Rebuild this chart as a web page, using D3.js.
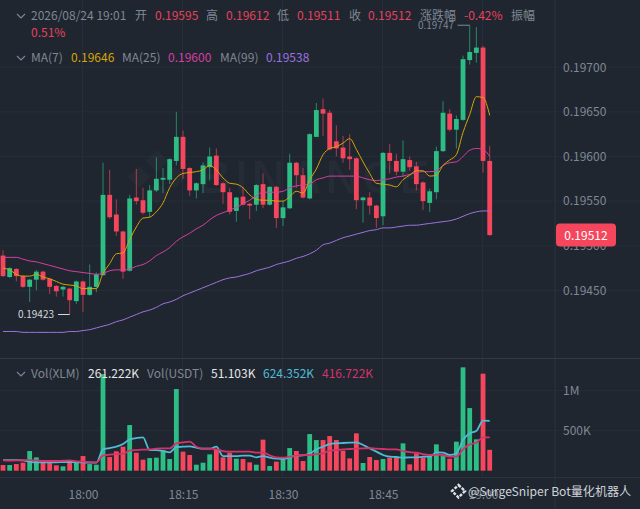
<!DOCTYPE html>
<html>
<head>
<meta charset="utf-8">
<script src="https://cdn.jsdelivr.net/npm/d3@7"></script>
<style>
  html, body { margin: 0; padding: 0; background: #1f2630; overflow: hidden; }
  svg { display: block; font-family: "Noto Sans CJK SC", "Noto Sans", sans-serif; font-size: 12px; }
  .domain { display: none; }
  .tick line { display: none; }
  .tick text { fill: #7f8894; font-size: 12px; font-family: "Noto Sans CJK SC", "Noto Sans", sans-serif; }
</style>
</head>
<body>
<svg id="chart" width="640" height="509"></svg>
<script>
// prices are in units of 0.00001, volumes in thousands
const open = [19489,19465,19474,19466,19454,19462,19471,19463,19455,19451,19452,19438,19460,19445,19454,19467,19557,19535,19516,19472,19554,19551,19538,19562,19574,19574,19595,19622,19587,19562,19569,19588,19601,19570,19560,19539,19555,19547,19546,19569,19546,19566,19531,19542,19593,19579,19553,19622,19653,19649,19617,19610,19600,19598,19551,19554,19545,19533,19604,19595,19583,19596,19589,19571,19548,19560,19606,19648,19630,19641,19708,19716,19722,19595];
const high = [19495,19476,19475,19467,19463,19473,19472,19464,19456,19455,19453,19461,19461,19479,19470,19593,19585,19552,19517,19557,19586,19565,19568,19599,19587,19598,19650,19629,19588,19571,19593,19610,19609,19571,19565,19555,19565,19548,19569,19581,19567,19567,19550,19603,19594,19587,19626,19660,19665,19652,19635,19623,19625,19599,19555,19560,19546,19605,19614,19603,19618,19600,19594,19572,19564,19611,19662,19653,19646,19713,19747,19745,19724,19612];
const low = [19465,19464,19460,19453,19437,19450,19461,19446,19443,19443,19423,19435,19426,19444,19448,19467,19530,19511,19463,19471,19546,19535,19532,19560,19559,19569,19590,19575,19556,19553,19559,19573,19567,19547,19535,19527,19545,19530,19539,19542,19545,19520,19522,19541,19565,19553,19552,19622,19623,19607,19600,19593,19585,19541,19526,19535,19520,19523,19581,19579,19577,19584,19562,19540,19538,19552,19605,19628,19609,19640,19703,19705,19582,19511];
const close = [19466,19475,19466,19454,19462,19471,19462,19454,19449,19454,19439,19460,19445,19454,19468,19557,19532,19516,19471,19553,19550,19537,19562,19575,19576,19597,19622,19586,19562,19570,19590,19600,19568,19560,19538,19554,19546,19545,19568,19546,19566,19531,19543,19593,19579,19554,19625,19652,19648,19608,19609,19598,19597,19551,19554,19545,19531,19604,19595,19583,19597,19588,19569,19550,19561,19606,19649,19630,19642,19709,19717,19722,19595,19512];
const ma7 = [19475,19473,19468,19466,19466,19468,19465,19463,19460,19457,19456,19455,19452,19452,19452,19469,19480,19491,19492,19507,19521,19531,19532,19538,19548,19565,19576,19581,19582,19583,19585,19590,19585,19576,19570,19569,19565,19557,19552,19551,19551,19550,19550,19555,19561,19559,19574,19586,19602,19609,19611,19615,19620,19608,19594,19581,19570,19569,19568,19566,19574,19579,19584,19584,19578,19579,19590,19596,19602,19627,19647,19667,19666,19646];
const ma25 = [19487,19487,19487,19485,19483,19482,19480,19478,19476,19474,19472,19471,19470,19469,19468,19469,19472,19473,19473,19474,19477,19479,19483,19489,19493,19498,19505,19510,19514,19519,19523,19529,19534,19537,19540,19543,19547,19551,19556,19560,19560,19560,19561,19565,19567,19568,19569,19574,19576,19578,19578,19578,19578,19578,19576,19574,19573,19574,19575,19577,19578,19580,19582,19583,19583,19584,19590,19593,19594,19600,19607,19609,19608,19600];
const ma99 = [19404,19404,19404,19403,19403,19403,19403,19403,19403,19403,19404,19404,19405,19406,19408,19410,19412,19415,19417,19420,19423,19426,19428,19431,19435,19437,19440,19444,19447,19450,19453,19456,19459,19462,19464,19465,19467,19469,19472,19474,19476,19479,19481,19483,19486,19488,19491,19495,19501,19503,19506,19509,19511,19513,19515,19517,19518,19520,19520,19521,19522,19523,19523,19524,19525,19526,19527,19528,19530,19533,19536,19538,19539,19539];
const volume = [71,71,83,100,246,167,104,104,67,54,125,100,183,83,75,1208,171,242,300,571,225,138,158,163,258,146,1021,238,196,75,100,204,267,167,225,150,146,104,75,388,58,113,142,283,246,121,458,383,383,433,383,250,154,467,96,171,133,146,163,167,342,79,217,167,183,329,183,150,363,1292,783,392,1213,261];
const volMaBlue = [133,133,133,129,113,104,104,104,104,108,108,104,104,100,100,267,283,300,333,392,408,417,258,258,246,229,296,300,304,288,275,275,300,183,183,183,188,188,167,183,163,150,146,167,188,192,213,267,300,333,342,346,350,354,321,279,238,196,175,171,163,167,167,175,175,229,225,196,217,383,467,496,625,624];
const volMaPink = [129,125,129,129,133,129,121,121,121,125,129,117,113,108,104,188,200,208,213,250,258,263,267,275,279,279,342,354,363,300,275,275,267,246,238,238,238,238,225,229,192,167,163,175,188,196,196,208,217,250,258,267,271,275,279,283,275,271,267,267,246,233,225,208,196,200,196,175,175,267,329,350,417,417];

const priceTicks = [19450, 19500, 19550, 19600, 19650, 19700];
const volumeTicks = [500, 1000];
const timeTickIndex = [12, 27, 42, 57, 72];
const timeTickLabels = ['18:00', '18:15', '18:30', '18:45', '19:00'];

const headerText = ['开', '0.19595', '高', '0.19612', '低', '0.19511', '收', '0.19512', '涨跌幅', '-0.42%', '振幅'];
const maLegend = ['MA(7)', '0.19646', 'MA(25)', '0.19600', 'MA(99)', '0.19538'];
const volLegend = ['Vol(XLM)', '261.222K', 'Vol(USDT)', '51.103K', '624.352K', '416.722K'];

const UP = '#2ebd85', DOWN = '#f6465d', GRID = '#272e39', MUTED = '#7f8894';
const TEXT_RED = '#e8415a';
const C_MA7 = '#d9a406', C_MA25 = '#d63ea3', C_MA99 = '#9d72e0', C_BLUE = '#4fbcd6', C_PINK = '#d6336c';

const svg = d3.select('#chart');
const n = close.length;
const idx = d3.range(n);

const x = d3.scaleLinear().domain([0, n - 1]).range([3, 489.7]);
const y = d3.scaleLinear().domain([19450, 19700]).range([290.4, 67.2]);
const yVol = d3.scaleLinear().domain([0, 1000]).range([470.7, 390.7]);

// grid
const grid = svg.append('g').attr('stroke', GRID).attr('stroke-width', 1);
grid.selectAll('line.v').data(timeTickIndex).enter().append('line')
  .attr('x1', d => Math.round(x(d)) - 0.5).attr('x2', d => Math.round(x(d)) - 0.5)
  .attr('y1', 0).attr('y2', 477);
grid.selectAll('line.h').data(priceTicks).enter().append('line')
  .attr('x1', 0).attr('x2', 640).attr('y1', d => y(d)).attr('y2', d => y(d));
grid.selectAll('line.hv').data(volumeTicks).enter().append('line')
  .attr('x1', 0).attr('x2', 640).attr('y1', d => yVol(d)).attr('y2', d => yVol(d));

// faint exchange watermark
const wm = svg.append('g').attr('fill', '#ffffff').attr('fill-opacity', 0.028);
wm.append('path').attr('d', 'M157 150 L168 161 L157 172 L146 161 Z M139 166 L150 177 L139 188 L128 177 Z M175 166 L186 177 L175 188 L164 177 Z M157 182 L168 193 L157 204 L146 193 Z');
wm.append('text').attr('x', 198).attr('y', 193).attr('font-size', 46).attr('font-weight', 700)
  .attr('textLength', 232).style('font-family', '"Liberation Sans", sans-serif').text('BINANCE');

// dividers
svg.append('line').attr('x1', 555).attr('x2', 555).attr('y1', 0).attr('y2', 509).attr('stroke', '#2b323d');
svg.append('line').attr('x1', 0).attr('x2', 640).attr('y1', 358.5).attr('y2', 358.5).attr('stroke', '#333a45');
svg.append('line').attr('x1', 0).attr('x2', 640).attr('y1', 477.5).attr('y2', 477.5).attr('stroke', '#2b323d');

// axes
svg.append('g').attr('transform', 'translate(555,0)')
  .call(d3.axisRight(y).tickValues(priceTicks).tickSize(0).tickPadding(8).tickFormat(d => (d / 1e5).toFixed(5)));
svg.append('g').attr('transform', 'translate(555,0)')
  .call(d3.axisRight(yVol).tickValues(volumeTicks).tickSize(0).tickPadding(8).tickFormat(d => d === 1000 ? '1M' : d + 'K'));
svg.append('g').attr('transform', 'translate(0,488)')
  .call(d3.axisBottom(x).tickValues(timeTickIndex).tickSize(0).tickPadding(2).tickFormat((d, i) => timeTickLabels[i]));

// volume bars
const isUp = i => close[i] >= open[i];
svg.append('g').selectAll('rect').data(idx).enter().append('rect')
  .attr('x', i => x(i) - 2.4).attr('width', 4.8)
  .attr('y', i => yVol(volume[i])).attr('height', i => yVol(0) - yVol(volume[i]))
  .attr('fill', i => isUp(i) ? UP : DOWN);

const volLine = s => d3.line().x(i => x(i)).y(i => yVol(s[i])).curve(d3.curveMonotoneX)(idx);
svg.append('path').attr('d', volLine(volMaBlue)).attr('fill', 'none').attr('stroke', C_BLUE).attr('stroke-width', 1.8);
svg.append('path').attr('d', volLine(volMaPink)).attr('fill', 'none').attr('stroke', C_PINK).attr('stroke-width', 1.8);

// candles
const candle = svg.append('g').selectAll('g').data(idx).enter().append('g');
candle.append('line')
  .attr('x1', i => x(i)).attr('x2', i => x(i))
  .attr('y1', i => y(high[i])).attr('y2', i => y(low[i]))
  .attr('stroke', i => isUp(i) ? UP : DOWN).attr('stroke-opacity', 0.65);
candle.append('rect')
  .attr('x', i => x(i) - 2.4).attr('width', 4.8)
  .attr('y', i => y(Math.max(open[i], close[i])))
  .attr('height', i => Math.max(1, Math.abs(y(open[i]) - y(close[i]))))
  .attr('fill', i => isUp(i) ? UP : DOWN);

// moving averages
const maLine = s => d3.line().x(i => x(i)).y(i => y(s[i])).curve(d3.curveMonotoneX)(idx);
[[ma99, C_MA99], [ma25, C_MA25], [ma7, C_MA7]].forEach(([s, c]) => {
  svg.append('path').attr('d', maLine(s)).attr('fill', 'none').attr('stroke', c).attr('stroke-width', 1);
});

// high / low markers
const highAt = high.indexOf(d3.max(high)), lowAt = low.indexOf(d3.min(low));
svg.append('line').attr('x1', 457.5).attr('x2', x(highAt)).attr('y1', y(high[highAt])).attr('y2', y(high[highAt])).attr('stroke', MUTED);
svg.append('text').attr('x', 454).attr('y', y(high[highAt]) + 3.5).attr('text-anchor', 'end').attr('fill', MUTED).style('font-size', '10px').text('0.19747');
svg.append('line').attr('x1', 58).attr('x2', x(lowAt)).attr('y1', y(low[lowAt])).attr('y2', y(low[lowAt])).attr('stroke', '#d5d9de');
svg.append('text').attr('x', 54).attr('y', y(low[lowAt]) + 3.5).attr('text-anchor', 'end').attr('fill', '#d5d9de').style('font-size', '10px').text('0.19423');

// legends
const chevron = yc => svg.append('path').attr('d', `M17 ${yc - 2}L21 ${yc + 2}L25 ${yc - 2}`)
  .attr('fill', 'none').attr('stroke', MUTED).attr('stroke-width', 1.1);
const label = (tx, ty, str, fill) => svg.append('text').attr('x', tx).attr('y', ty).attr('fill', fill).text(str);

chevron(16);
label(31, 20, '2026/08/24 19:01', MUTED);
const headerX = [135, 155, 206, 226, 277, 297, 349, 368, 420, 464, 511];
headerText.forEach((t, i) => label(headerX[i], 20, t, i === 10 || i % 2 === 0 && i !== 9 ? MUTED : TEXT_RED));
label(31, 37, '0.51%', TEXT_RED);

chevron(58);
const maX = [31, 71, 122, 168, 220, 266];
const maColors = [MUTED, C_MA7, MUTED, C_MA25, MUTED, C_MA99];
maLegend.forEach((t, i) => label(maX[i], 62, t, maColors[i]));

chevron(374);
const volX = [31, 88, 147, 211, 263, 322];
const volColors = [MUTED, '#e4e7ea', MUTED, '#e4e7ea', C_BLUE, C_PINK];
volLegend.forEach((t, i) => label(volX[i], 378, t, volColors[i]));

// last price tag
svg.append('rect').attr('x', 556).attr('y', y(close[n - 1]) - 11.5).attr('width', 60).attr('height', 23).attr('rx', 4).attr('fill', DOWN);
svg.append('text').attr('x', 586).attr('y', y(close[n - 1]) + 4.5).attr('text-anchor', 'middle').attr('fill', '#fff').text('0.19512');

// bottom-right credit
const credit = svg.append('g');
credit.append('path').attr('d', 'M458.5 485 L465 491 L458.5 497.5 L452 491 Z').attr('fill', 'none').attr('stroke', '#dfe2e6').attr('stroke-width', 2.4).attr('stroke-dasharray', '3 1.4');
credit.append('text').attr('x', 468).attr('y', 496).attr('fill', '#cfd3d8').style('font-size', '12.1px').text('@SurgeSniper Bot量化机器人');
</script>
</body>
</html>
